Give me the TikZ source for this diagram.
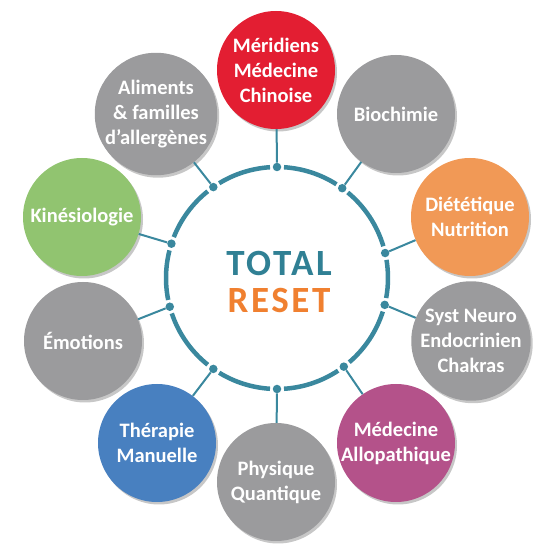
\documentclass[tikz,border=0pt]{standalone}
\usepackage{fontspec}
\setmainfont{Carlito}
\usetikzlibrary{shadows,calc}
\definecolor{ringcol}{RGB}{58,136,158}
\definecolor{titlecol}{RGB}{48,128,148}
\definecolor{resetcol}{RGB}{240,128,48}
\definecolor{cred}{RGB}{227,30,50}
\definecolor{cgray}{RGB}{155,155,157}
\definecolor{corange}{RGB}{241,153,86}
\definecolor{cgreen}{RGB}{145,196,112}
\definecolor{cblue}{RGB}{72,128,192}
\definecolor{cmag}{RGB}{180,82,138}
\begin{document}
\begin{tikzpicture}[x=1pt,y=1pt,
  bubble/.style={circle,minimum size=118pt,inner sep=0pt,text=white,align=center,
    font=\bfseries\fontsize{20.5}{25}\selectfont,
    drop shadow={shadow xshift=2pt,shadow yshift=-2.5pt,fill=black!22,opacity=1}},
  ringseg/.style={draw=ringcol,line width=4.5pt},
  link/.style={draw=ringcol,line width=2pt},
  dotnode/.style={circle,fill=ringcol,minimum size=8.5pt,inner sep=0pt}]
\useasboundingbox (0,0) rectangle (556,558);
\coordinate (c) at (277,280);
% bubbles
\node[bubble,fill=cred]    (m1)  at (276,488) {Méridiens\\Médecine\\Chinoise};
\node[bubble,fill=cgray]   (m2)  at (396,444) {Biochimie};
\node[bubble,fill=corange] (m3)  at (470,341) {Diététique\\Nutrition};
\node[bubble,fill=cgray]   (m4)  at (471,217) {Syst Neuro\\Endocrinien\\Chakras};
\node[bubble,fill=cmag]    (m5)  at (396,115) {Médecine\\Allopathique};
\node[bubble,fill=cgray]   (m6)  at (276,76)  {Physique\\Quantique};
\node[bubble,fill=cblue]   (m7)  at (157,115) {Thérapie\\Manuelle};
\node[bubble,fill=cgray]   (m8)  at (83,217)  {Émotions};
\node[bubble,fill=cgreen]  (m9)  at (82,341)  {Kinésiologie};
\node[bubble,fill=cgray]   (m10) at (156,444) {Aliments\\\& familles\\d’allergènes};
% ring segments
\foreach \a/\b [evaluate=\a as \s using \a-3.6, evaluate=\b as \e using \b+3.6] in
  {90/54, 54/13, 13/-14, -14/-53, -53/-90, -90/-125, -125/-165, -165/-198, -198/-235, -235/-270}
  \draw[ringseg] ([shift={(\s:111)}]c) arc[start angle=\s,end angle=\e,radius=111];
% dots and links
\foreach \ang/\k in {90/1, 54/2, 13/3, -14/4, -53/5, -90/6, -125/7, -165/8, 162/9, 125/10}{
  \node[dotnode] (d\k) at ([shift={(\ang:111)}]c) {};
  \draw[link] (d\k) -- (m\k);
}
% title
\node[align=center,font=\bfseries\fontsize{37}{37}\selectfont\addfontfeatures{LetterSpace=7}] (title) at (279,276)
  {\textcolor{titlecol}{TOTAL}\\\textcolor{resetcol}{RESET}};
\end{tikzpicture}
\end{document}
